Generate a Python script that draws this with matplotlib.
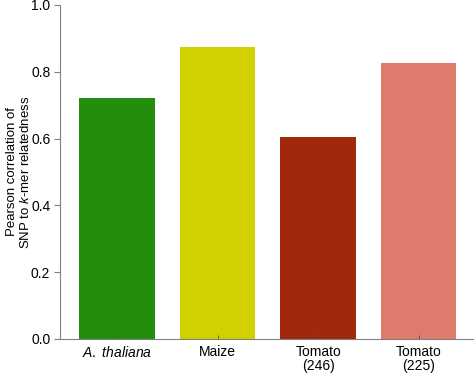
import matplotlib
matplotlib.use("Agg")
import matplotlib.pyplot as plt

# data
labels = ["$\\it{A.\\ thaliana}$", "Maize", "Tomato\n(246)", "Tomato\n(225)"]
values = [0.722, 0.874, 0.604, 0.826]
colors = ["#238E0C", "#D1D000", "#A0280C", "#DE7B6C"]

plt.rcParams["font.family"] = ["Liberation Sans", "DejaVu Sans"]
plt.rcParams["mathtext.fontset"] = "custom"
plt.rcParams["mathtext.it"] = "Liberation Sans:italic"
plt.rcParams["mathtext.rm"] = "Liberation Sans"

fig = plt.figure(figsize=(4.74, 3.73), dpi=100)
ax = fig.add_axes([0.1266, 0.0912, 0.8734, 0.8954])

x = range(len(values))
ax.bar(x, values, width=0.75, color=colors)

ax.set_xlim(-0.567, 3.55)
ax.set_ylim(0, 1.0)
ax.set_yticks([0, 0.2, 0.4, 0.6, 0.8, 1.0])
ax.set_yticklabels(["0.0", "0.2", "0.4", "0.6", "0.8", "1.0"])
ax.set_xticks(list(x))
ax.set_xticklabels(labels, fontsize=10, linespacing=1.05)
ax.tick_params(axis="y", labelsize=10, length=4, color="#808080", width=0.8, pad=3)
ax.tick_params(axis="x", direction="in", length=3, color="#505050", width=0.6, pad=4)

ax.spines["top"].set_visible(False)
ax.spines["right"].set_visible(False)
ax.spines["left"].set_color("#808080")
ax.spines["bottom"].set_color("#808080")

ax.set_ylabel("Pearson correlation of\nSNP to $\\it{k}$-mer relatedness", fontsize=9.5, linespacing=1.1)
ax.yaxis.set_label_coords(-0.067, 0.5)

fig.savefig("out.png", dpi=100)
